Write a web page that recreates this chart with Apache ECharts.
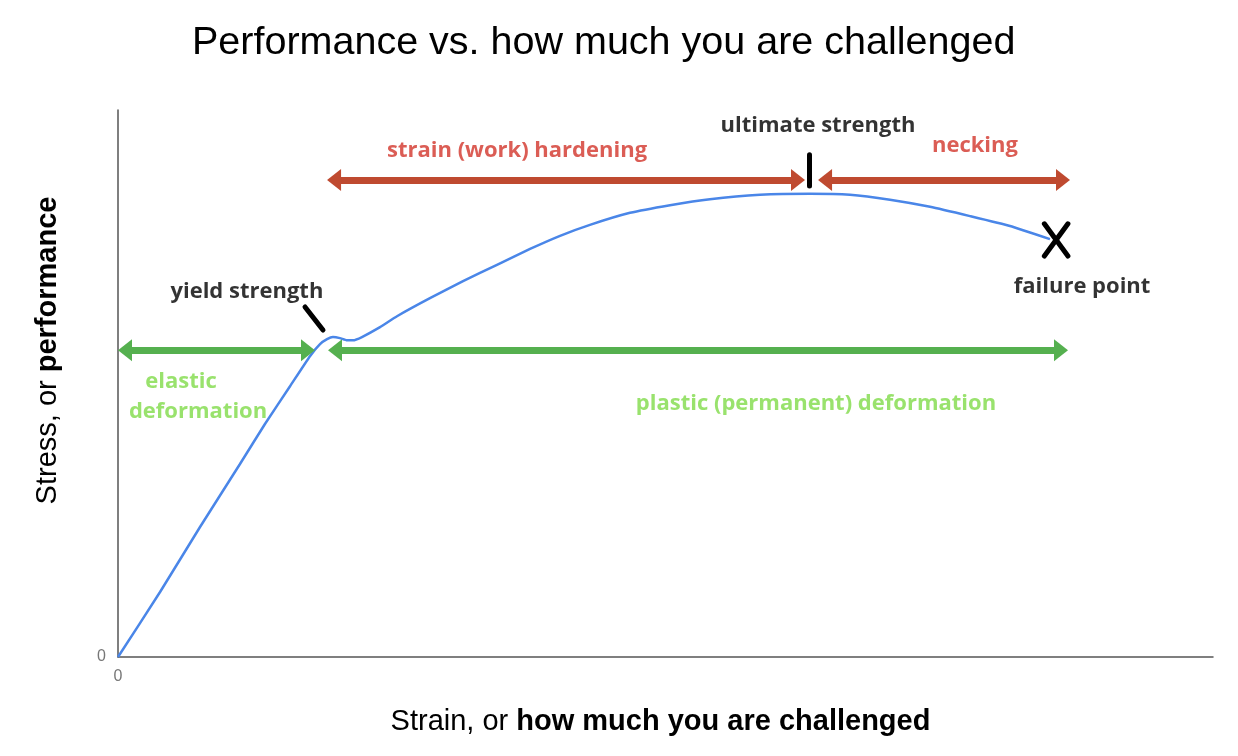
<!DOCTYPE html>
<html>
<head>
<meta charset="utf-8">
<script src="https://cdn.jsdelivr.net/npm/echarts@6/dist/echarts.min.js"></script>
<style>
html, body { margin: 0; padding: 0; background: #fff; }
#chart { width: 1238px; height: 756px; }
</style>
</head>
<body>
<div id="chart"></div>
<script>
// stress / strain curve (x = strain, y = stress)
const curveX = [0, 3.84, 7.49, 11.14, 13.42, 15.71, 17.53, 18.45, 19.09, 19.63, 20.27, 20.91, 21.46, 22.28, 23.93, 25.48, 28.49, 31.51, 34.61, 37.63, 40.37, 43.1, 46.76, 50.41, 54.06, 58.63, 63.2, 66.85, 70.5, 74.16, 77.81, 81.46, 85.11]
const curveY = [0, 11.88, 23.77, 35.28, 42.6, 49.5, 55.0, 57.2, 58.1, 58.5, 58.3, 57.9, 57.9, 58.5, 60.3, 62.3, 65.6, 68.7, 71.7, 74.6, 77.0, 79.0, 81.2, 82.6, 83.7, 84.5, 84.7, 84.5, 83.6, 82.3, 80.6, 78.8, 76.4]

// double headed arrows: [x1, x2, y]
const redArrows = [[19.73, 62.1, 87.2], [64.57, 86.3, 87.2]]
const greenArrows = [[0.64, 17.35, 56.1], [19.82, 86.12, 56.1]]

// black marks: [x1, y1, x2, y2]
const marks = [
  [17.08, 64.0, 18.72, 59.78], // yield strength
  [63.1, 91.8, 63.1, 86.1], // ultimate strength
  [84.6, 79.2, 86.75, 73.3], // failure X
  [86.75, 79.2, 84.6, 73.3]
]

// labels: [x, y, text]
const blackLabels = [[11.77, 66.7, 'yield strength'], [63.93, 97.07, 'ultimate strength'], [88.04, 67.6, 'failure point']]
const redLabels = [[36.44, 92.5, 'strain (work) hardening'], [78.26, 93.4, 'necking']]
const greenLabels = [[5.75, 50.3, 'elastic'], [7.31, 44.8, 'deformation'], [63.74, 46.25, 'plastic (permanent) deformation']]

const chart = echarts.init(document.getElementById('chart'))

const arrowLines = (list, color) => ({
  symbol: ['triangle', 'triangle'],
  symbolSize: [22, 14],
  silent: true,
  label: { show: false },
  lineStyle: { color: color, width: 7, type: 'solid' },
  data: list.map(a => [{ coord: [a[0], a[2]] }, { coord: [a[1], a[2]] }])
})

const labelSeries = (list, color) => ({
  type: 'scatter',
  symbolSize: 0,
  silent: true,
  data: list.map(l => ({ value: [l[0], l[1]], name: l[2] })),
  label: {
    show: true,
    position: 'inside',
    formatter: '{b}',
    color: color,
    fontFamily: 'Open Sans',
    fontWeight: 'bold',
    fontSize: 22
  }
})

const axisName = {
  a: { fontFamily: 'Liberation Sans', fontSize: 29, color: '#000' },
  b: { fontFamily: 'Liberation Sans', fontSize: 29, color: '#000', fontWeight: 'bold' }
}

const option = {
  animation: false,
  title: {
    text: 'Performance vs. how much you are challenged',
    left: 187,
    top: 18,
    textStyle: {
      fontFamily: 'Liberation Sans',
      fontWeight: 'normal',
      fontSize: 39.5,
      color: '#000'
    }
  },
  grid: { left: 118, right: 25, top: 110, bottom: 99 },
  xAxis: {
    type: 'value',
    min: 0,
    max: 100,
    interval: 100,
    name: '{a|Strain, or }{b|how much you are challenged}',
    nameLocation: 'middle',
    nameGap: 50,
    nameTextStyle: { padding: [0, 10, 0, 0], rich: axisName },
    axisLine: { lineStyle: { color: '#555', width: 1.5 } },
    axisTick: { show: false },
    splitLine: { show: false },
    axisLabel: {
      formatter: v => (v === 0 ? '0' : ''),
      color: '#777',
      fontSize: 16,
      margin: 12
    }
  },
  yAxis: {
    type: 'value',
    min: 0,
    max: 100,
    interval: 100,
    name: '{a|Stress, or }{b|performance}',
    nameLocation: 'middle',
    nameGap: 56,
    nameTextStyle: {
      padding: [0, 0, 0, 66],
      rich: axisName
    },
    axisLine: { show: true, lineStyle: { color: '#555', width: 1.5 } },
    axisTick: { show: false },
    splitLine: { show: false },
    axisLabel: {
      formatter: v => (v === 0 ? '0' : ''),
      color: '#777',
      fontSize: 16,
      margin: 12
    }
  },
  series: [
    {
      type: 'line',
      data: curveX.map((x, i) => [x, curveY[i]]),
      smooth: 0.15,
      showSymbol: false,
      silent: true,
      lineStyle: { color: '#4a86e8', width: 2.5 },
      markLine: arrowLines(redArrows, '#bf4a30'),
      z: 3
    },
    {
      type: 'line',
      data: [],
      markLine: arrowLines(greenArrows, '#55b04f')
    },
    {
      type: 'line',
      data: [],
      markLine: {
        symbol: ['none', 'none'],
        silent: true,
        label: { show: false },
        lineStyle: { color: '#000', width: 5, type: 'solid', cap: 'round' },
        data: marks.map(m => [{ coord: [m[0], m[1]] }, { coord: [m[2], m[3]] }])
      }
    },
    labelSeries(blackLabels, '#000'),
    labelSeries(redLabels, '#d2342a'),
    labelSeries(greenLabels, '#80db48')
  ]
}

chart.setOption(option)
</script>
</body>
</html>
